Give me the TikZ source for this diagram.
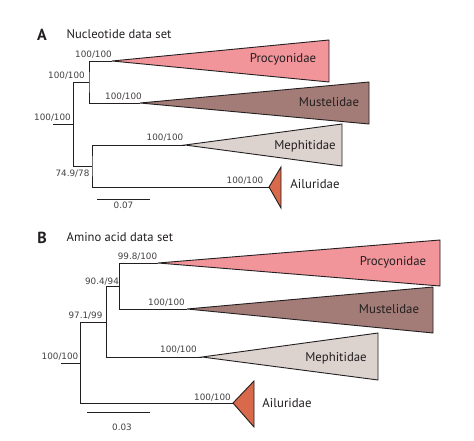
\documentclass[tikz,border=0pt]{standalone}
\usepackage{fontspec}
\setmainfont{PT Sans}
\newfontfamily\numfont{DejaVu Sans}
\definecolor{procy}{HTML}{F2959B}
\definecolor{muste}{HTML}{A47C77}
\definecolor{mephi}{HTML}{DCD3CF}
\definecolor{ailur}{HTML}{D8694A}
\definecolor{ink}{HTML}{231F20}
\begin{document}
\begin{tikzpicture}[x=1pt,y=-1pt,
  br/.style={draw=ink,line width=0.9pt},
  clade/.style={draw=ink,line width=0.9pt,line join=miter},
  sup/.style={font=\numfont\fontsize{8.8}{10}\selectfont,text=ink!85,inner sep=0pt},
  taxon/.style={font=\fontsize{12.8}{15}\selectfont,text=ink,inner sep=0pt},
  ttl/.style={font=\fontsize{12.6}{15}\selectfont,text=ink,inner sep=0pt,anchor=west},
  lett/.style={font=\bfseries\fontsize{16}{18}\selectfont,text=ink,inner sep=0pt}]
\useasboundingbox (0,0) rectangle (474,441);
\fill[white] (0,0) rectangle (474,441);
% ---------------- Panel A ----------------
\node[lett] (LA) at (42,35) {A};
\node[ttl] (TA) at (66.5,34) {Nucleotide data set};
\coordinate (aR0) at (53,124.5);
\coordinate (aR) at (73,124.5);
\coordinate (aN1) at (73,82);
\coordinate (aN1e) at (89,82);
\coordinate (aN2) at (73,166);
\coordinate (aN2e) at (92,166);
\coordinate (aPa) at (112,61);
\coordinate (aMa) at (140,103);
\coordinate (aMea) at (185,145);
\coordinate (aAa) at (269,187);
% clades
\draw[clade,fill=procy] (aPa) -- (329,40) -- (329,82) -- cycle;
\draw[clade,fill=muste] (aMa) -- (369,82) -- (369,124) -- cycle;
\draw[clade,fill=mephi] (aMea) -- (342,124) -- (342,166) -- cycle;
\draw[clade,fill=ailur] (aAa) -- (281,167) -- (281,208) -- cycle;
% branches
\draw[br] (aR0) -- (aR);
\draw[br] (aN1) -- (aN2);
\draw[br] (aN1) -- (aN1e);
\draw[br] (aN2) -- (aN2e);
\draw[br] (aPa) -| (aN1e) |- (aMa);
\draw[br] (aMea) -| (aN2e) |- (aAa);
% labels
\node[taxon] (tAP) at (283,59) {Procyonidae};
\node[taxon] (tAM) at (329,102) {Mustelidae};
\node[taxon] (tAMe) at (305,146) {Mephitidae};
\node[taxon] (tAA) at (315,184) {Ailuridae};
\node[sup] (sA0) at (52.5,118) {100/100};
\node[sup] (sA1) at (66.5,76) {100/100};
\node[sup] (sA2) at (93.5,55) {100/100};
\node[sup] (sA3) at (123.5,97) {100/100};
\node[sup] (sA4) at (72.5,174) {74.9/78};
\node[sup] (sA5) at (165,138) {100/100};
\node[sup] (sA6) at (245,180.5) {100/100};
\coordinate (sbA1) at (97,199);
\coordinate (sbA2) at (150,199);
\draw[br] (sbA1) -- (sbA2);
\node[sup] (scA) at (123.5,205) {0.07};
% ---------------- Panel B ----------------
\node[lett] (LB) at (42,238) {B};
\node[ttl] (TB) at (66.5,237) {Amino acid data set};
\coordinate (bR0) at (61,363.5);
\coordinate (bR) at (80,363.5);
\coordinate (bN1) at (80,322);
\coordinate (bN1e) at (106,322);
\coordinate (bN2) at (106,286);
\coordinate (bN2e) at (119,286);
\coordinate (bPa) at (158,263);
\coordinate (bMa) at (187,309);
\coordinate (bMea) at (202,357);
\coordinate (bAa) at (233,403);
% clades
\draw[clade,fill=procy] (bPa) -- (440,240) -- (440,286) -- cycle;
\draw[clade,fill=muste] (bMa) -- (433,287) -- (433,333) -- cycle;
\draw[clade,fill=mephi] (bMea) -- (378,333) -- (378,380) -- cycle;
\draw[clade,fill=ailur] (bAa) -- (254,381) -- (254,427) -- cycle;
% branches
\draw[br] (bR0) -- (bR);
\draw[br] (bN1) -- (bN1e);
\draw[br] (bN2) -- (bN2e);
\draw[br] (bN1) |- (bAa);
\draw[br] (bN2) |- (bMea);
\draw[br] (bN2e) |- (bPa);
\draw[br] (bN2e) |- (bMa);
% labels
\node[taxon] (tBP) at (393,262) {Procyonidae};
\node[taxon] (tBM) at (389,309) {Mustelidae};
\node[taxon] (tBMe) at (336,358) {Mephitidae};
\node[taxon] (tBA) at (287,403) {Ailuridae};
\node[sup] (sB0) at (60,357) {100/100};
\node[sup] (sB1) at (85.5,316) {97.1/99};
\node[sup] (sB2) at (102,282) {90.4/94};
\node[sup] (sB3) at (137.5,257) {99.8/100};
\node[sup] (sB4) at (166.5,303) {100/100};
\node[sup] (sB5) at (178.5,349.5) {100/100};
\node[sup] (sB6) at (212.5,397.5) {100/100};
\coordinate (sbB1) at (87,412);
\coordinate (sbB2) at (150,412);
\draw[br] (sbB1) -- (sbB2);
\node[sup] (scB) at (122,427) {0.03};
\end{tikzpicture}
\end{document}
